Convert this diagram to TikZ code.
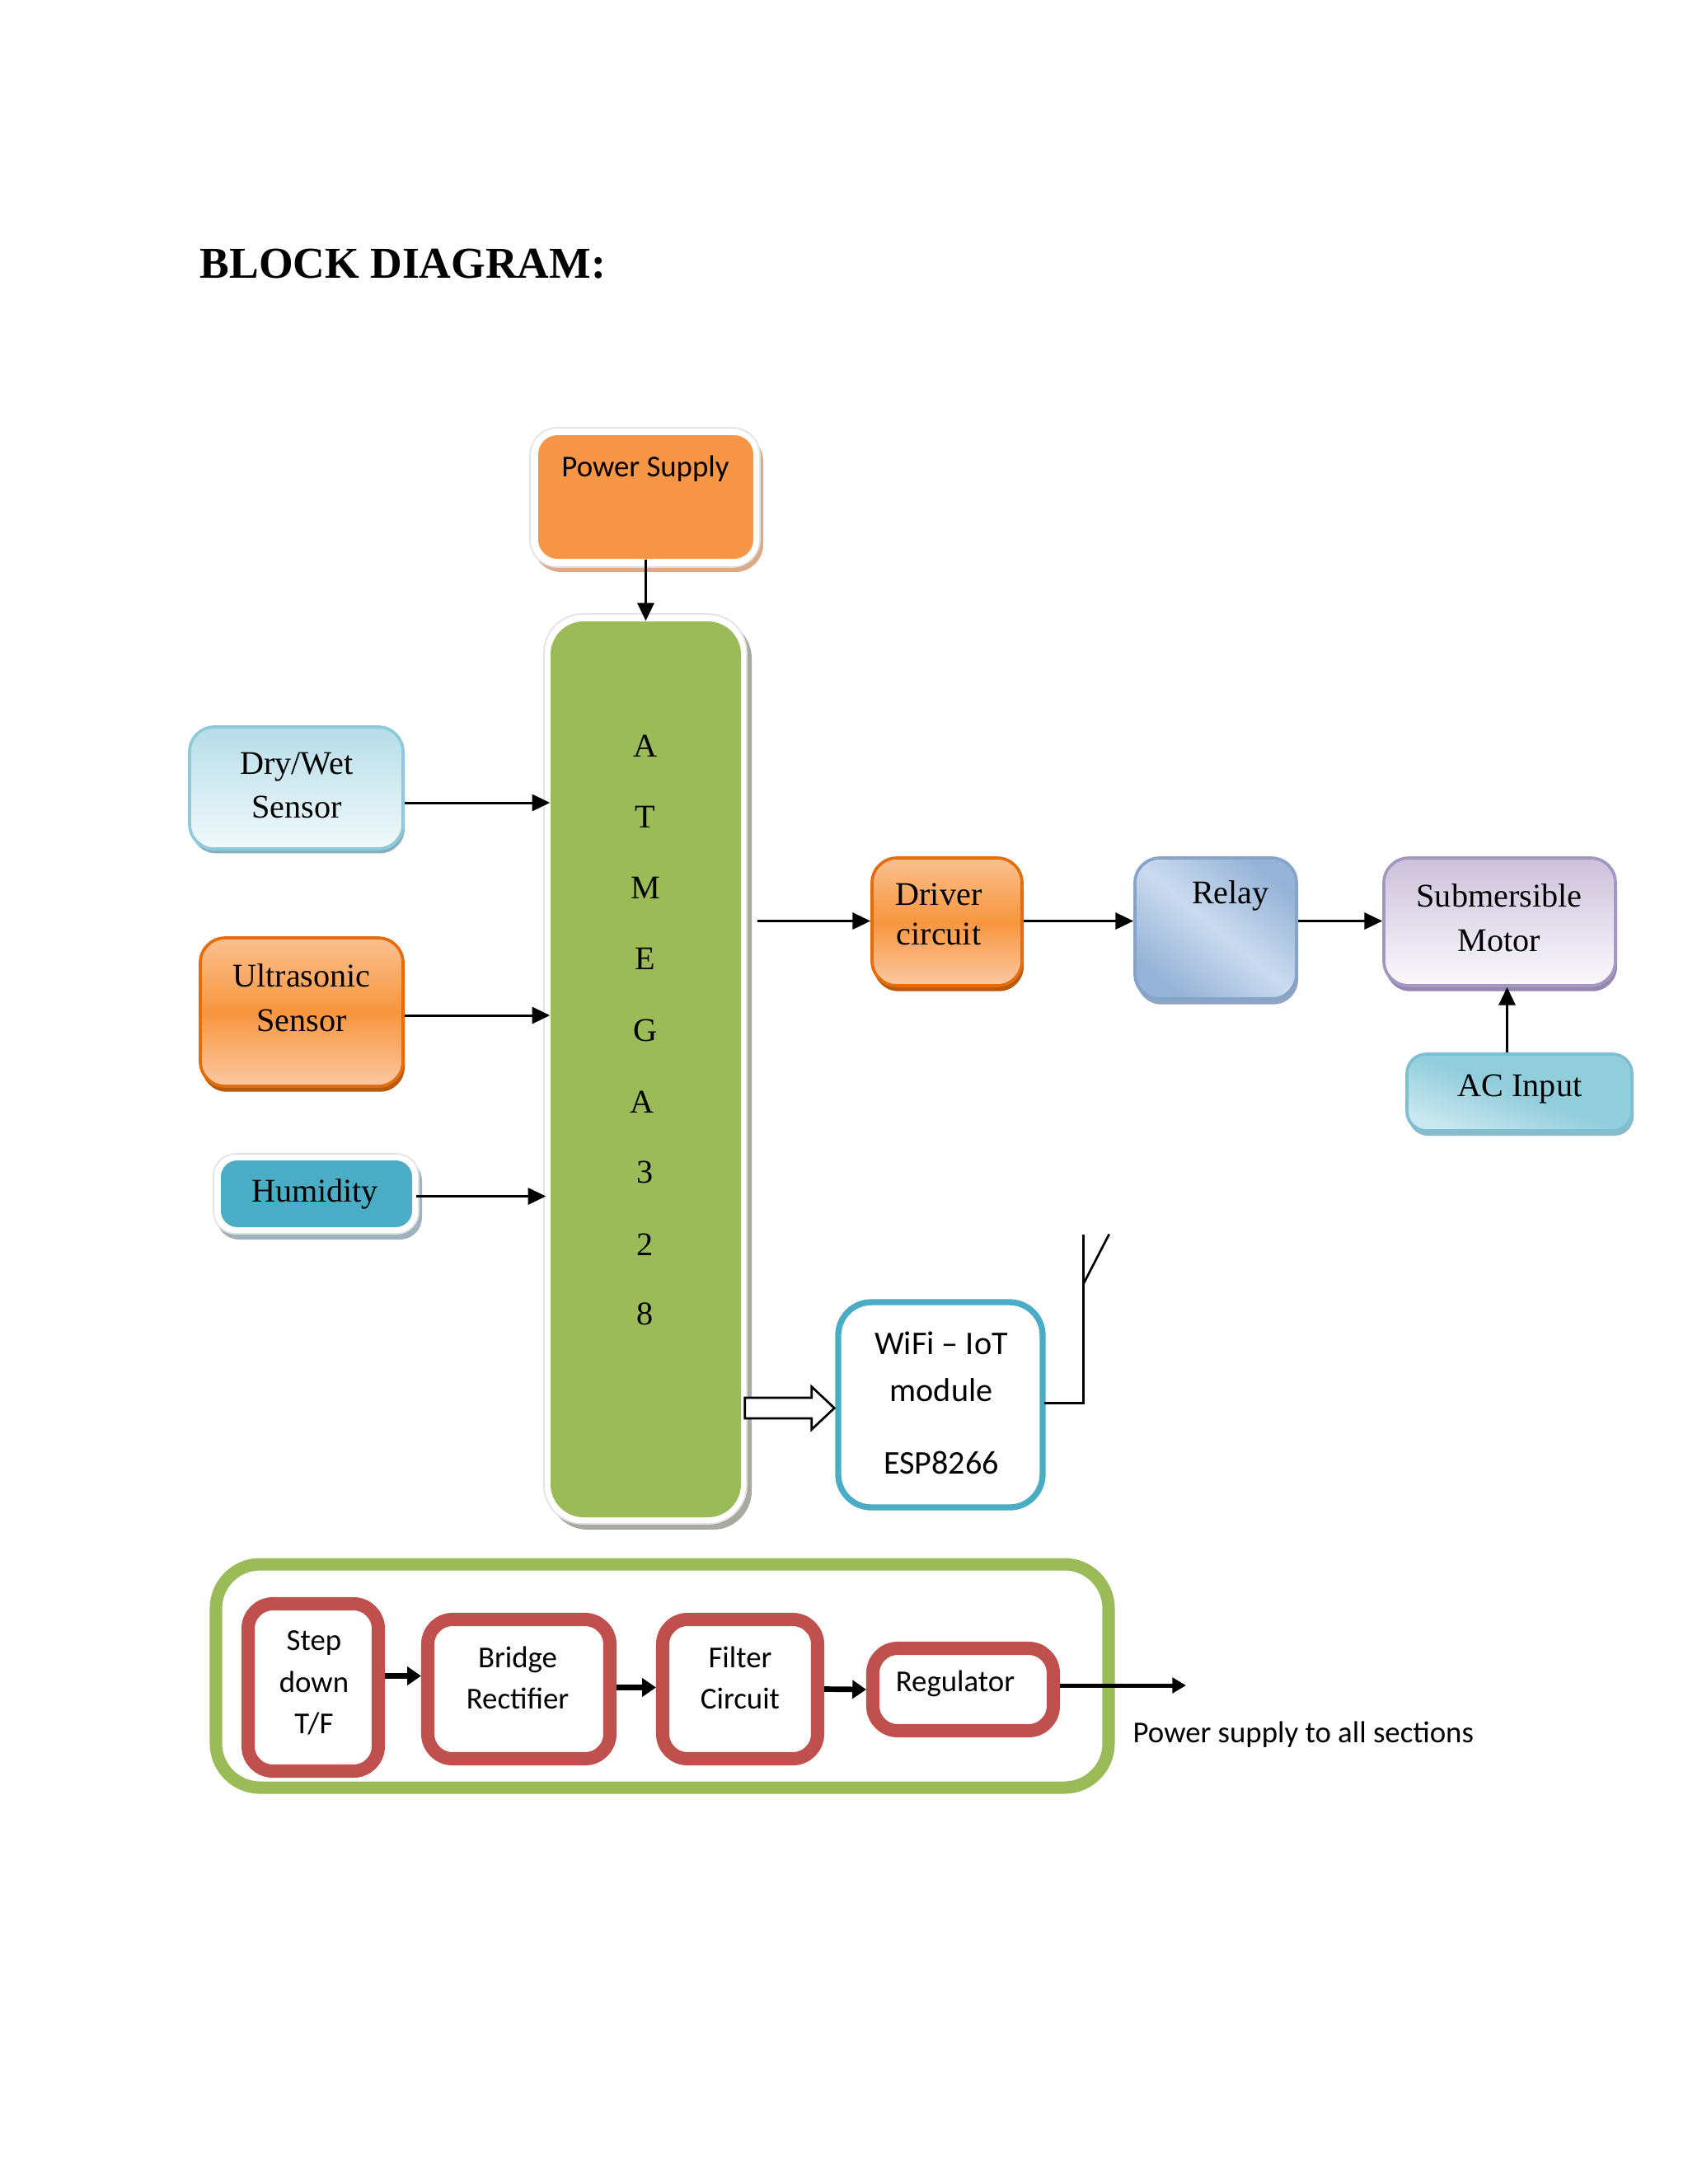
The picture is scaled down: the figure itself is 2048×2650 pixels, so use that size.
\documentclass[tikz,border=0pt]{standalone}
\usepackage{fontspec}
\setmainfont{Liberation Serif}
\newfontfamily\calib{Carlito}
\usetikzlibrary{arrows.meta,shadows,calc}
\definecolor{psorange}{HTML}{F79646}
\definecolor{pssh}{HTML}{DDAA88}
\definecolor{framegray}{HTML}{E2E2E2}
\definecolor{mcugreen}{HTML}{9BBB59}
\definecolor{mcush}{HTML}{A8AAA2}
\definecolor{humblue}{HTML}{4BACC6}
\definecolor{humsh}{HTML}{9FB2BE}
\definecolor{drytop}{HTML}{B6DDE8}
\definecolor{drybot}{HTML}{F2F9FB}
\definecolor{dryedge}{HTML}{8FCADB}
\definecolor{drysh}{HTML}{86AFC0}
\definecolor{orlt}{HTML}{FAC090}
\definecolor{orlt2}{HTML}{FBC8A2}
\definecolor{ormid}{HTML}{F7963F}
\definecolor{oredge}{HTML}{E46C0A}
\definecolor{orsh}{HTML}{B85A0E}
\definecolor{relaydk}{HTML}{95B3D7}
\definecolor{relaylt}{HTML}{CBDBEF}
\definecolor{relayedge}{HTML}{86A3C9}
\definecolor{relaysh}{HTML}{8FA5C2}
\definecolor{mottop}{HTML}{CCC1DA}
\definecolor{motbot}{HTML}{FBF9FD}
\definecolor{motedge}{HTML}{A497C2}
\definecolor{motsh}{HTML}{9488B0}
\definecolor{acdk}{HTML}{92CDDC}
\definecolor{aclt}{HTML}{C9E7EF}
\definecolor{acedge}{HTML}{7EC0D2}
\definecolor{acsh}{HTML}{8DB8C6}
\definecolor{boxred}{HTML}{C0504D}
\tikzset{
  conn/.style={line width=0.9pt,-{Triangle[length=6.5pt,width=6pt]}},
  barrow/.style={line width=2pt,-{Triangle[length=5pt,width=6.5pt]}},
  oarrow/.style={line width=1.5pt,-{Triangle[length=5pt,width=5.5pt]}},
  thinline/.style={line width=0.8pt},
  hollow/.style={line width=0.8pt,draw=black,fill=white,line join=miter},
  sensorbox/.style={rounded corners=9pt,line width=1.1pt},
  orangebox/.style={sensorbox,draw=oredge,top color=orlt,bottom color=orlt2,middle color=ormid,
     drop shadow={shadow xshift=0.6pt,shadow yshift=-2pt,fill=orsh,opacity=1}},
  drybox/.style={sensorbox,draw=dryedge,top color=drytop,bottom color=drybot,
     drop shadow={shadow xshift=0.6pt,shadow yshift=-1.6pt,fill=drysh,opacity=1}},
  relaybox/.style={sensorbox,draw=relayedge,top color=relaydk,bottom color=relaydk,middle color=relaylt,shading angle=-40,
     drop shadow={shadow xshift=0.6pt,shadow yshift=-2pt,fill=relaysh,opacity=1}},
  motorbox/.style={sensorbox,draw=motedge,top color=mottop,bottom color=motbot,
     drop shadow={shadow xshift=0.6pt,shadow yshift=-2pt,fill=motsh,opacity=1}},
  acbox/.style={sensorbox,rounded corners=7pt,draw=acedge,top color=acdk,bottom color=aclt,middle color=acdk,shading angle=-20,
     drop shadow={shadow xshift=0.6pt,shadow yshift=-1.8pt,fill=acsh,opacity=1}},
  flatbox/.style={rounded corners=7pt,draw=none},
  redbox/.style={draw=boxred,line width=4.8pt,rounded corners=9pt,fill=white},
  ttxt/.style={align=center,inner sep=0pt,font=\fontsize{12}{16}\selectfont},
  ctxt/.style={align=center,inner sep=0pt,font=\calib\fontsize{11}{15}\selectfont},
}
\begin{document}
\begin{tikzpicture}[x=0.2988pt,y=-0.2988pt]
\def\u{0.2988pt}
\useasboundingbox[fill=white] (0,0) rectangle (2048,2650);

% title
\node[anchor=base west,inner sep=0pt,font=\fontsize{16}{19}\selectfont\bfseries] (title) at (242,337) {BLOCK DIAGRAM:};

% ---- Power supply frame and box
\fill[pssh,rounded corners=10pt] (647,526) rectangle (926,694);
\filldraw[fill=white,draw=framegray,line width=0.5pt,rounded corners=10pt] (643,519) rectangle (922,688);
\node[flatbox,fill=psorange,minimum width=261*\u,minimum height=150*\u] (ps) at (783.5,603) {};
\node[ctxt] (psT) at (783,569) {Power Supply};

% ---- MCU frame and box
\fill[mcush,rounded corners=14pt] (666,752) rectangle (912,1856);
\filldraw[fill=white,draw=framegray,line width=0.5pt,rounded corners=14pt] (660,745) rectangle (906,1849);
\node[flatbox,rounded corners=12pt,fill=mcugreen,minimum width=231*\u,minimum height=1087*\u] (mcu) at (783.5,1297.5) {};
\foreach \ch/\xx/\yy [count=\k] in {A/783/905,T/783/991,M/783/1077,E/783/1163,G/783/1250,A/779/1337,3/783/1422,2/783/1510,8/783/1594}
  \node[ttxt] (l\k) at (\xx,\yy) {\ch};

% ---- Sensors
\node[drybox,minimum width=259*\u,minimum height=148*\u] (dry) at (359.5,956) {};
\node[ttxt] (dryT) at (360,953) {Dry/Wet\\Sensor};

\node[orangebox,minimum width=246*\u,minimum height=180*\u] (ultra) at (366,1228) {};
\node[ttxt] (ultraT) at (366,1211) {Ultrasonic\\Sensor};

\fill[humsh,rounded corners=8pt] (263,1406) rectangle (512,1504);
\filldraw[fill=white,draw=framegray,line width=0.5pt,rounded corners=8pt] (259,1400) rectangle (508,1497);
\node[flatbox,rounded corners=6pt,fill=humblue,minimum width=232*\u,minimum height=81*\u] (hum) at (384,1448.5) {};
\node[ttxt] (humT) at (382,1449) {Humidity};

% ---- Output chain
\node[orangebox,minimum width=182*\u,minimum height=155*\u] (driver) at (1149,1118.5) {};
\node[ttxt,font=\fontsize{12}{14.4}\selectfont] (driverT) at (1139,1109) {Driver\\circuit};

\node[relaybox,minimum width=196*\u,minimum height=171*\u] (relay) at (1475,1126.5) {};
\node[ttxt] (relayT) at (1493,1087) {Relay};

\node[motorbox,minimum width=281*\u,minimum height=155*\u] (motor) at (1819.5,1118.5) {};
\node[ttxt] (motorT) at (1819,1114) {Submersible\\Motor};

\node[acbox,minimum width=273*\u,minimum height=93*\u] (ac) at (1843.5,1325.5) {};
\node[ttxt] (acT) at (1844,1321) {AC Input};

% ---- WiFi module
\node[draw=humblue,line width=2.2pt,rounded corners=12pt,fill=white,minimum width=248*\u,minimum height=249*\u] (wifi) at (1141,1704.5) {};
\node[ctxt,font=\calib\fontsize{12}{17}\selectfont] (wifiT) at (1142,1702) {WiFi – IoT\\module\\[9.3pt]ESP8266};

% ---- connectors
\draw[conn] (ps.south) -- (mcu.north);
\draw[conn] ($(dry.east)+(0,18)$) coordinate (d1) -- (d1 -| mcu.west);
\draw[conn] ($(ultra.east)+(0,4)$) coordinate (u1) -- (u1 -| mcu.west);
\draw[conn,shorten >=1.5pt] ($(hum.east)+(4,3)$) coordinate (h1) -- (h1 -| mcu.west);
\draw[conn] ($(mcu.east |- driver.west)+(19,-1)$) coordinate (m1) -- (m1 -| driver.west);
\draw[conn] ($(driver.east)+(0,-1)$) coordinate (r1) -- (r1 -| relay.west);
\draw[conn] (motor.west -| relay.east) ++(0,-1) coordinate (r2) -- (r2 -| motor.west);
\draw[conn] ($(ac.north)+(-15,0)$) coordinate (a1) -- (a1 |- motor.south);

% hollow arrow MCU -> WiFi
\coordinate (hs) at ($(mcu.east)+(4,411)$);
\coordinate (ht) at (wifi.west |- hs);
\draw[hollow] ($(hs)+(0,-12.5)$) -- ($(hs)+(81,-12.5)$) -- ($(hs)+(81,-26)$) -- ($(ht)+(-1,0)$)
  -- ($(hs)+(81,26)$) -- ($(hs)+(81,12.5)$) -- ($(hs)+(0,12.5)$) -- cycle;

% antenna
\draw[thinline] ($(wifi.east)+(-2,-2)$) -- ++(48,0) coordinate (ant) -- ++(0,-205) coordinate (antTop);
\draw[thinline] ($(ant)+(0,-145)$) coordinate (antK) -- ++(31,-60) coordinate (antE);

% ---- Power supply section
\node[draw=mcugreen,line width=4.5pt,rounded corners=16pt,minimum width=1083*\u,minimum height=271*\u] (psu) at (803.5,2033.5) {};
\node[redbox,minimum width=158*\u,minimum height=203*\u] (step) at (380,2047.5) {};
\node[redbox,minimum width=221*\u,minimum height=169*\u] (bridge) at (629.5,2049.5) {};
\node[redbox,minimum width=188*\u,minimum height=169*\u] (filter) at (898,2049.5) {};
\node[redbox,minimum width=219*\u,minimum height=100*\u] (reg) at (1168.5,2050) {};
\node[ctxt] (stepT) at (381,2042) {Step\\down\\T/F};
\node[ctxt] (bridgeT) at (628,2036) {Bridge\\Rectifier};
\node[ctxt] (filterT) at (898,2036) {Filter\\Circuit};
\node[ctxt] (regT) at (1159,2043) {Regulator};

\draw[barrow] ($(step.east)+(0,-14)$) coordinate (s1) -- (s1 -| bridge.west);
\draw[barrow] ($(bridge.east)+(0,-2)$) coordinate (b1) -- (b1 -| filter.west);
\draw[barrow] (filter.east) -- (reg.west);
\draw[oarrow] ($(reg.east)+(0,-5)$) -- ++(153,0) coordinate (outEnd);
\node[ctxt,anchor=west] (outT) at (1374,2105) {Power supply to all sections};
\end{tikzpicture}
\end{document}
